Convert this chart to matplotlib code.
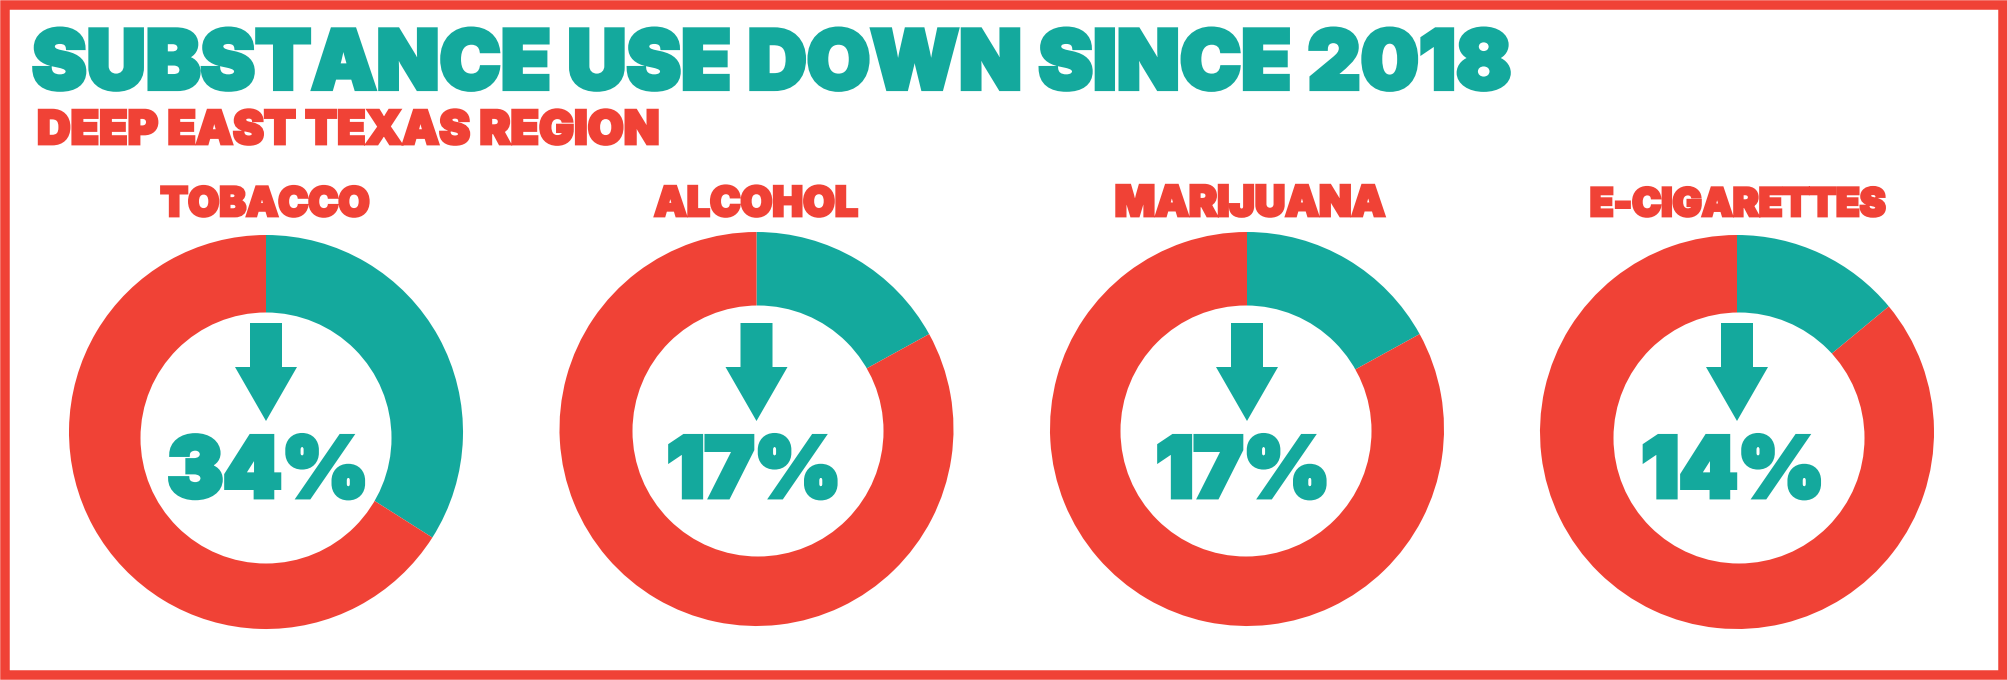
import numpy as np
import matplotlib.pyplot as plt
from matplotlib.patches import Rectangle, Circle, Polygon
from matplotlib import patheffects as pe

RED = '#f04236'
TEAL = '#14a99d'
FONT = ['Inter', 'Lato', 'DejaVu Sans']

title = 'SUBSTANCE USE DOWN SINCE 2018'
subtitle = 'DEEP EAST TEXAS REGION'
names = ['TOBACCO', 'ALCOHOL', 'MARIJUANA', 'E-CIGARETTES']
drops = [34, 17, 17, 14]

# pixel layout
outer_x = [266, 756.5, 1247, 1737]
outer_y = [432, 429, 429, 432]
hole_x = [266, 758, 1246, 1739]
hole_y = [438, 431, 431, 438]
name_x = [265, 756, 1250, 1738]
name_size = [29, 29.5, 30.5, 28]
pct_x = [268, 754, 1243, 1733]
R_OUT = 197
R_IN = 125.5

W, H = 2008, 680
plt.rcParams['font.family'] = FONT

fig = plt.figure(figsize=(W / 100, H / 100), dpi=100)
ax = fig.add_axes([0, 0, 1, 1])
ax.axis('off')

def fat(w, c):
    return [pe.withStroke(linewidth=w, foreground=c, joinstyle='miter')]

# frame
ax.add_patch(Rectangle((4.75, 4.75), W - 9.5, H - 9.5, fill=False, ec=RED, lw=6.84))

ax.text(32, 89, title, color=TEAL, fontsize=59, fontweight='black', va='baseline', path_effects=fat(3, TEAL))
ax.text(37, 144, subtitle, color=RED, fontsize=33.5, fontweight='black', va='baseline', path_effects=fat(2, RED))

for i in range(4):
    # y axis runs downward here, so the angles go clockwise on screen
    ax.pie([drops[i], 100 - drops[i]], colors=[TEAL, RED], startangle=-90, counterclock=True,
           radius=R_OUT, center=(outer_x[i], outer_y[i]))
    ax.add_patch(Circle((hole_x[i], hole_y[i]), R_IN, fc='white', ec='none', zorder=3))

    ax.text(name_x[i], 216, names[i], color=RED, fontsize=name_size[i], fontweight='black', ha='center', va='baseline',
            path_effects=fat(2, RED), zorder=4)
    # arrow
    cx = outer_x[i]
    ax.add_patch(Polygon([(cx - 16, 323), (cx + 16, 323), (cx + 16, 367), (cx + 31, 367), (cx, 421),
                          (cx - 31, 367), (cx - 16, 367)], fc=TEAL, ec='none', zorder=4))
    ax.text(pct_x[i], 497, f'{drops[i]}%', color=TEAL, fontsize=60, fontweight='black', ha='center', va='baseline',
            path_effects=fat(3.5, TEAL), zorder=4)

ax.set_xlim(0, W)
ax.set_ylim(H, 0)
ax.set_aspect('auto')

fig.savefig('out.png', dpi=100)
